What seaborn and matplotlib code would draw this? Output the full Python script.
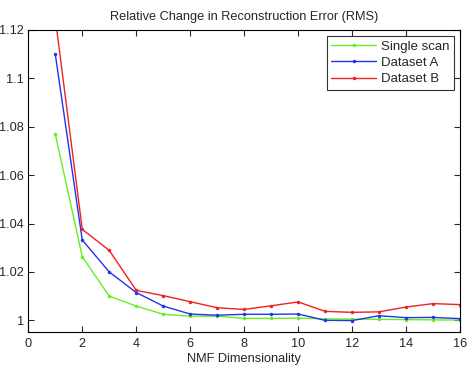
import matplotlib
matplotlib.use("Agg")
import matplotlib.pyplot as plt
import seaborn as sns
import pandas as pd

dims = list(range(1, 17))
single_scan = [1.077, 1.0263, 1.0100, 1.0059, 1.0025, 1.0017, 1.0017, 1.0008, 1.0008, 1.0009,
               1.0006, 1.0005, 1.0004, 1.0003, 1.0002, 1.0001]
dataset_a = [1.110, 1.0332, 1.0200, 1.0115, 1.0059, 1.0026, 1.0021, 1.0025, 1.0025, 1.0026,
             1.0000, 0.9999, 1.0019, 1.0011, 1.0012, 1.0007]
dataset_b = [1.125, 1.0376, 1.0289, 1.0124, 1.0102, 1.0077, 1.0052, 1.0045, 1.0060, 1.0076,
             1.0037, 1.0033, 1.0035, 1.0055, 1.0069, 1.0065]
series_names = ["Single scan", "Dataset A", "Dataset B"]
xticks = list(range(0, 17, 2))
yticks = [1.00, 1.02, 1.04, 1.06, 1.08, 1.10, 1.12]
ytick_labels = ["1", "1.02", "1.04", "1.06", "1.08", "1.1", "1.12"]

df = pd.concat([
    pd.DataFrame({"dim": dims, "val": v, "series": n})
    for v, n in zip([single_scan, dataset_a, dataset_b], series_names)
])

sns.set_style("white")
plt.rcParams["font.family"] = ["Liberation Sans", "DejaVu Sans"]

fig = plt.figure(figsize=(4.74, 3.69), dpi=100)
ax = fig.add_axes([0.0597, 0.1011, 0.9108, 0.8176])

palette = {"Single scan": "#66ee22", "Dataset A": "#2233ee", "Dataset B": "#ee2222"}
sns.lineplot(data=df, x="dim", y="val", hue="series", palette=palette, marker=".",
             markersize=5, markeredgewidth=0, linewidth=1.0, ax=ax, legend=True)

ax.set_xlim(0, 16)
ax.set_ylim(0.9953, 1.12)
ax.set_xticks(xticks)
ax.set_xticklabels([str(t) for t in xticks], fontsize=9.2)
ax.set_yticks(yticks)
ax.set_yticklabels(ytick_labels, fontsize=9.2)
ax.tick_params(direction="in", top=True, right=True, length=4, width=0.8, pad=4.5,
               bottom=True, left=True)
ax.tick_params(axis="y", pad=3)
for s in ax.spines.values():
    s.set_color("black")
    s.set_linewidth(0.8)
ax.set_xlabel("NMF Dimensionality", fontsize=9.2, labelpad=2.5)
ax.set_ylabel("")
ax.set_title("Relative Change in Reconstruction Error (RMS)", fontsize=9.2, pad=7)

leg = ax.legend(loc="upper right", fontsize=9.5, frameon=True, fancybox=False,
                edgecolor="black", handlelength=3.4, borderaxespad=0.45,
                labelspacing=0.3, borderpad=0.35, handletextpad=0.35)
leg.get_frame().set_linewidth(0.8)

fig.savefig("out.png", dpi=100)
